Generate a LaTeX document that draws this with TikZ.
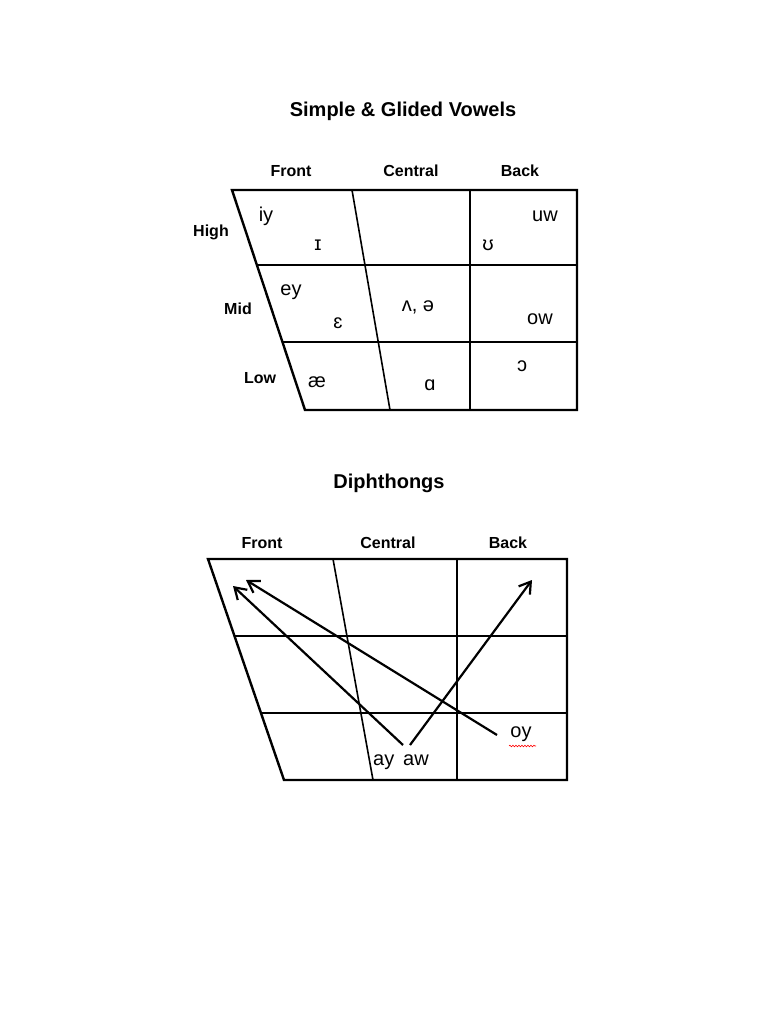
\documentclass[tikz,border=0pt]{standalone}
\usepackage{fontspec}
\setmainfont{Liberation Sans}
\usetikzlibrary{arrows.meta,decorations.pathmorphing}
\tikzset{
  grid/.style={line width=2.4pt},
  inner/.style={line width=1.6pt},
  head/.style={font=\bfseries\fontsize{16}{19}\selectfont},
  ttl/.style={font=\bfseries\fontsize{20}{24}\selectfont},
  vow/.style={font=\fontsize{20}{24}\selectfont},
  glide/.style={line width=2.2pt,-{Straight Barb[length=11pt,width=14pt,line width=2.2pt]}}
}
\begin{document}
\begin{tikzpicture}[x=1pt,y=-1pt]
\useasboundingbox[fill=white] (0,0) rectangle (768,1024);
% simple and glided vowels
\node[ttl] (t1) at (403,111) {Simple \& Glided Vowels};
\node[head] at (291,171) {Front};
\node[head] at (411,171) {Central};
\node[head] at (520,171) {Back};
\node[head] at (211,232) {High};
\node[head] at (238,309) {Mid};
\node[head] at (260,378) {Low};
\draw[inner] (257,265) -- (577,265) (282,342) -- (577,342);
\draw[inner] (352,190) -- (390,410) (470,190) -- (470,410);
\draw[grid] (232,190) -- (577,190) -- (577,410) -- (305,410) -- cycle;
\node[vow] at (266,216) {iy};
\node[vow] at (318,245) {ɪ};
\node[vow] at (488,245) {ʊ};
\node[vow] at (545,216) {uw};
\node[vow] at (291,292) {ey};
\node[vow] at (338,323) {ɛ};
\node[vow] at (418,307) {ʌ, ə};
\node[vow] at (540,319) {ow};
\node[vow] at (522,366) {ɔ};
\node[vow] at (317,382) {æ};
\node[vow] at (430,385) {ɑ};
% diphthongs
\node[ttl] (t2) at (389,483) {Diphthongs};
\node[head] at (262,543) {Front};
\node[head] at (388,543) {Central};
\node[head] at (508,543) {Back};
\draw[inner] (234,636) -- (567,636) (261,713) -- (567,713);
\draw[inner] (333,559) -- (373,780) (457,559) -- (457,780);
\draw[grid] (208,559) -- (567,559) -- (567,780) -- (284,780) -- cycle;
\node[vow] (ayaw) at (401,762) {ay\, aw};
\node[vow] (oy) at (521,734) {oy};
\coordinate (ay) at (403,745);
\coordinate (aw) at (410,745);
\coordinate (oy0) at (497,735);
\coordinate (i1) at (233,586);
\coordinate (i2) at (246,580);
\coordinate (u1) at (532,580);
\draw[glide] (ay) -- (i1);
\draw[glide] (aw) -- (u1);
\draw[glide] (oy0) -- (i2);
\draw[red,line width=0.6pt,decorate,decoration={snake,amplitude=0.8pt,segment length=3pt}]
  (509,746) -- (536,746);
\end{tikzpicture}
\end{document}
